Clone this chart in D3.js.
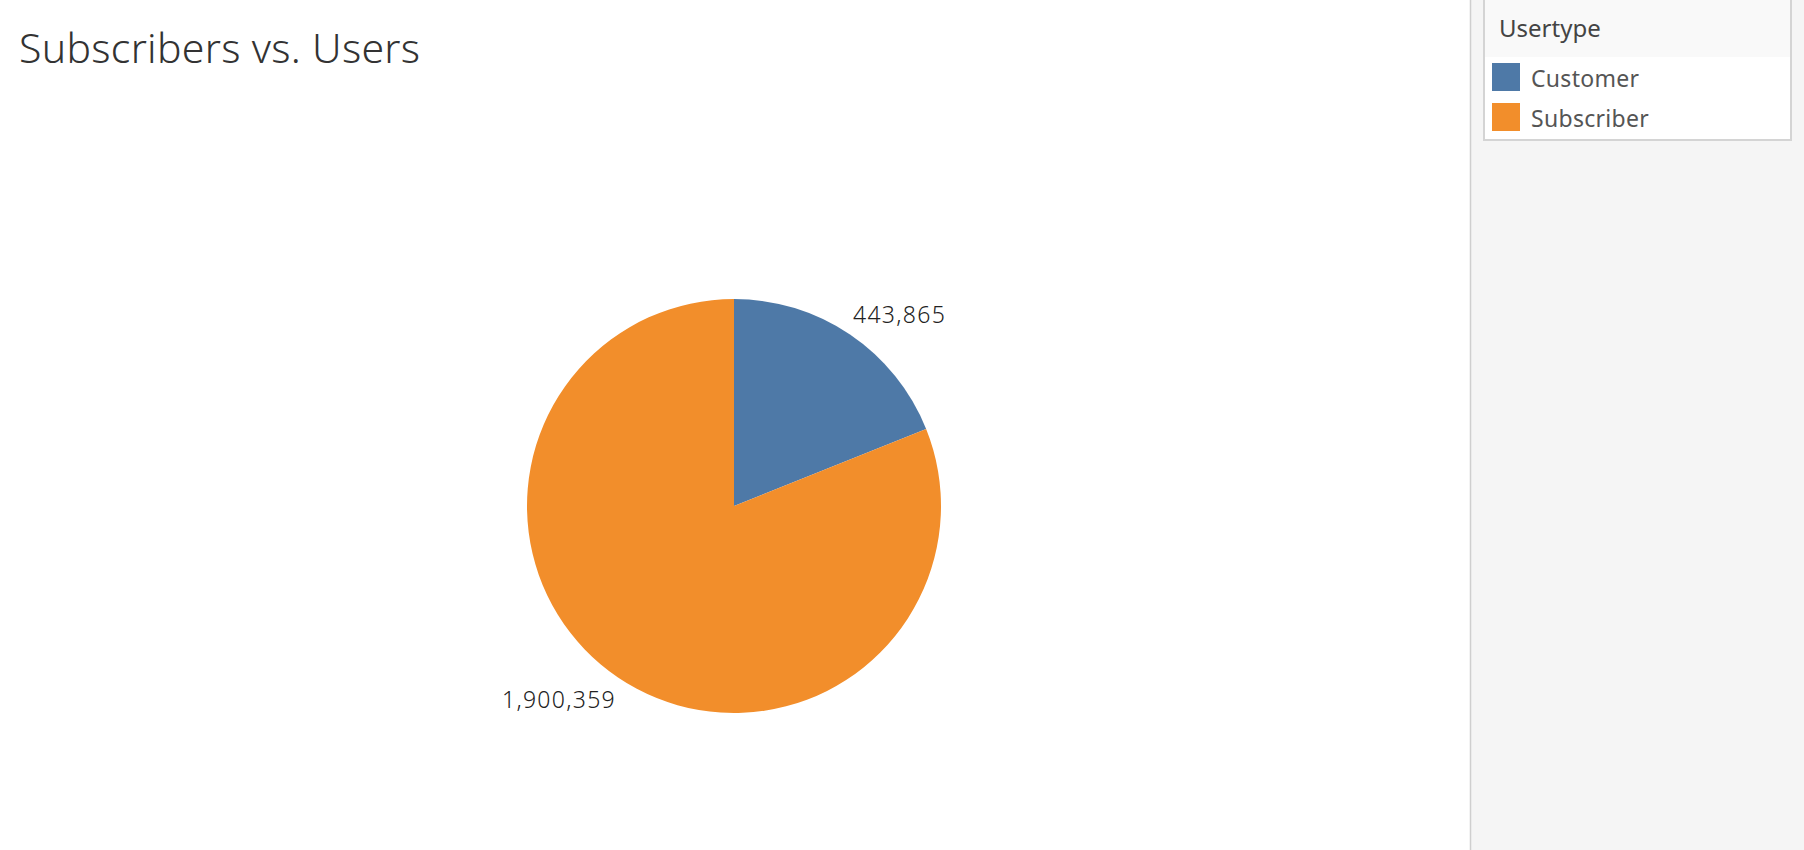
<!DOCTYPE html>
<html>
<head>
<meta charset="utf-8">
<script src="https://cdn.jsdelivr.net/npm/d3@7"></script>
<style>
  body { margin: 0; background: #fff; }
  svg { display: block; }
  text { font-family: "Noto Sans", "Open Sans", sans-serif; }
</style>
</head>
<body>
<svg id="chart"></svg>
<script>
const width = 1804;
const height = 850;

const categories = ['Customer', 'Subscriber'];
const values = [443865, 1900359];
const legendTitle = 'Usertype';
const title = 'Subscribers vs. Users';

const color = d3.scaleOrdinal()
  .domain(categories)
  .range(['#4e79a7', '#f28e2b']);

const sidebarX = 1470;
const cx = 734;
const cy = 506;
const radius = 207;

const svg = d3.select('#chart')
  .attr('width', width)
  .attr('height', height);

// sidebar
svg.append('rect')
  .attr('x', sidebarX)
  .attr('y', 0)
  .attr('width', width - sidebarX)
  .attr('height', height)
  .attr('fill', '#f5f5f5');

svg.append('line')
  .attr('x1', sidebarX + 0.5)
  .attr('x2', sidebarX + 0.5)
  .attr('y1', 0)
  .attr('y2', height)
  .attr('stroke', '#cfcfcf')
  .attr('stroke-width', 1.5);

// title
svg.append('text')
  .attr('x', 19)
  .attr('y', 63)
  .attr('font-size', 41)
  .attr('font-weight', 300)
  .attr('letter-spacing', 0.3)
  .attr('fill', '#333')
  .text(title);

// pie
const pie = d3.pie().sort(null).value(d => d.value);
const arcs = pie(categories.map((c, i) => ({ name: c, value: values[i] })));
const arc = d3.arc().innerRadius(0).outerRadius(radius);

const g = svg.append('g')
  .attr('transform', `translate(${cx},${cy})`);

g.selectAll('path')
  .data(arcs)
  .join('path')
    .attr('d', arc)
    .attr('fill', d => color(d.data.name));

const fmt = d3.format(',');

g.selectAll('.label')
  .data(arcs)
  .join('text')
    .attr('class', 'label')
    .each(function(d) {
      const a = (d.startAngle + d.endAngle) / 2;
      const x = Math.sin(a) * radius;
      const y = -Math.cos(a) * radius;
      const right = x >= 0;
      const top = y < 0;
      d3.select(this)
        .attr('x', right ? x + 3 : x - 2)
        .attr('y', top ? y - 12 : y + 31)
        .attr('text-anchor', right ? 'start' : 'end');
    })
    .attr('font-size', 23)
    .attr('font-weight', 300)
    .attr('letter-spacing', 1.3)
    .attr('fill', '#222')
    .text(d => fmt(d.data.value));

// legend
const lx = 1484;
const lw = 307;
const lh = 140;

const legend = svg.append('g');

legend.append('rect')
  .attr('x', lx)
  .attr('y', -2)
  .attr('width', lw)
  .attr('height', lh + 2)
  .attr('fill', '#fff')
  .attr('stroke', '#d4d4d4')
  .attr('stroke-width', 2);

legend.append('rect')
  .attr('x', lx + 1)
  .attr('y', 0)
  .attr('width', lw - 2)
  .attr('height', 57)
  .attr('fill', '#f9f9f9');

legend.append('text')
  .attr('x', 1499)
  .attr('y', 37)
  .attr('font-size', 24)
  .attr('fill', '#444')
  .text(legendTitle);

const item = legend.selectAll('.item')
  .data(categories)
  .join('g')
    .attr('class', 'item')
    .attr('transform', (d, i) => `translate(1492,${63 + i * 40})`);

item.append('rect')
  .attr('width', 28)
  .attr('height', 28)
  .attr('fill', d => color(d));

item.append('text')
  .attr('x', 39)
  .attr('y', 24)
  .attr('font-size', 23)
  .attr('letter-spacing', 0.3)
  .attr('fill', '#555')
  .text(d => d);
</script>
</body>
</html>
